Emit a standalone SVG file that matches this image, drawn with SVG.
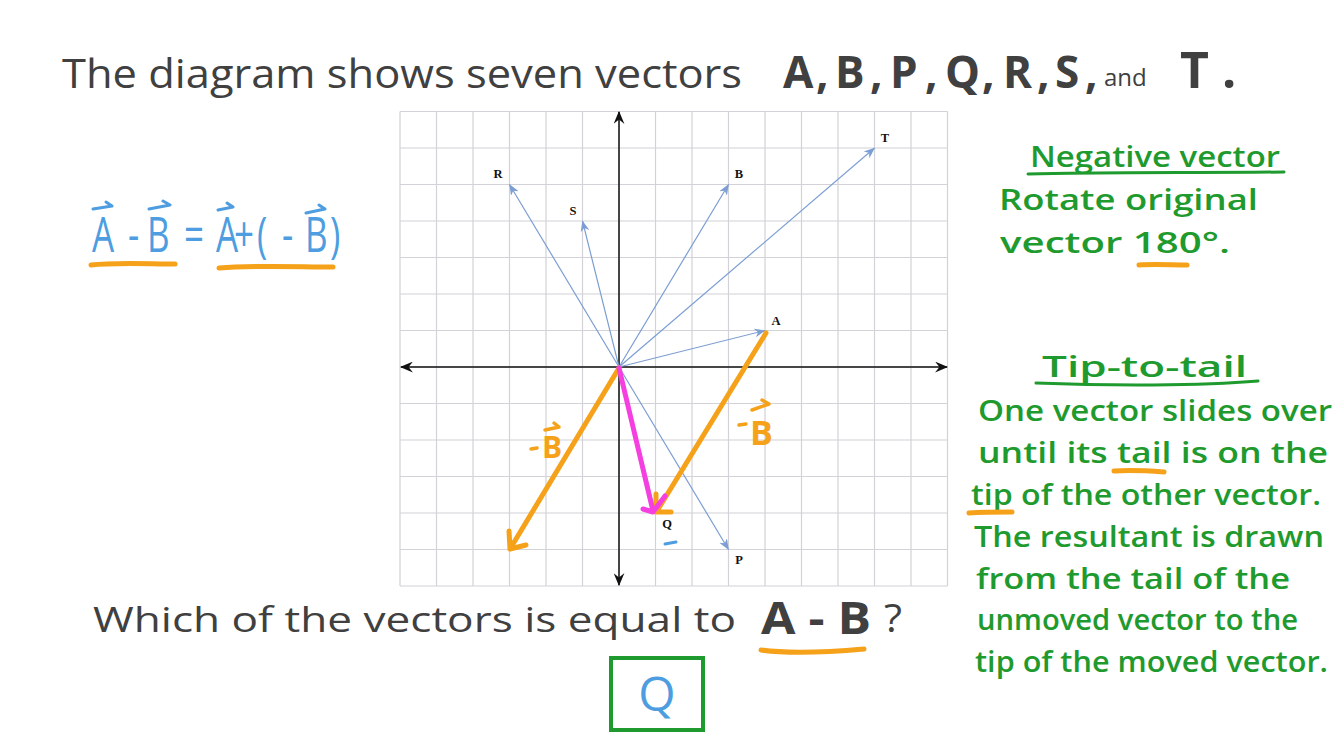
<svg xmlns="http://www.w3.org/2000/svg" width="1344" height="756" viewBox="0 0 1344 756">
<style>
.grid{stroke:#d2d2d8;stroke-width:1.2;fill:none}
.axis{stroke:#111;stroke-width:1.5;fill:none}
.vec{stroke:#7c9ed3;stroke-width:1.2;fill:none}
.lbl{font-family:"Liberation Serif",serif;font-weight:bold;font-size:12.5px;fill:#111;text-anchor:middle}
.hand{font-family:"Open Sans","Liberation Sans",sans-serif;fill:#404040}
.grn{font-family:"Open Sans","Liberation Sans",sans-serif;fill:#1f9a2e;font-weight:600;font-size:29px}
.org{stroke:#f5a21a;stroke-width:5;fill:none;stroke-linecap:round;stroke-linejoin:round}
.orgT{stroke:#f5a21a;stroke-width:3.5;fill:none;stroke-linecap:round;stroke-linejoin:round}
.pink{stroke:#f53fe0;stroke-width:5;fill:none;stroke-linecap:round;stroke-linejoin:round}
.blu{stroke:#4d9de0;stroke-width:3;fill:none;stroke-linecap:round;stroke-linejoin:round}
.gln{stroke:#1f9a2e;stroke-width:3;fill:none;stroke-linecap:round}
</style>
<defs>
<marker id="vh" viewBox="0 0 10 10" refX="9.5" refY="5" markerWidth="11" markerHeight="11" markerUnits="userSpaceOnUse" orient="auto">
<path d="M0,1 L10,5 L0,9 L3,5 z" fill="#7c9ed3"/>
</marker>
<marker id="ah" viewBox="0 0 12 10" refX="11" refY="5" markerWidth="13" markerHeight="11" markerUnits="userSpaceOnUse" orient="auto">
<path d="M0,0 L12,5 L0,10 L4,5 z" fill="#111"/>
</marker>
</defs>
<rect width="1344" height="756" fill="#fff"/>

<g id="title">
<text class="hand" x="62" y="88" font-size="40" textLength="680" lengthAdjust="spacingAndGlyphs">The diagram shows seven vectors</text>
<text class="hand" x="783 816 835 870 890 925 945 982 1003 1037 1055 1085" y="88" font-size="44" font-weight="bold">A,B,P,Q,R,S,</text>
<text class="hand" x="1104" y="86" font-size="24">and</text>
<text class="hand" x="1180 1222" y="88" font-size="50" font-weight="bold">T.</text>
</g>

<g id="grid">
<path class="grid" d="M400,111.5V586 M436.5,111.5V586 M473,111.5V586 M509.5,111.5V586 M546,111.5V586 M582.5,111.5V586 M619,111.5V586 M655.5,111.5V586 M692,111.5V586 M728.5,111.5V586 M765,111.5V586 M801.5,111.5V586 M838,111.5V586 M874.5,111.5V586 M911,111.5V586 M947.5,111.5V586 M400,111.5H947.5 M400,148H947.5 M400,184.5H947.5 M400,221H947.5 M400,257.5H947.5 M400,294H947.5 M400,330.5H947.5 M400,367H947.5 M400,403.5H947.5 M400,440H947.5 M400,476.5H947.5 M400,513H947.5 M400,549.5H947.5 M400,586H947.5"/>
</g>

<g id="axes">
<line class="axis" x1="619" y1="367" x2="947" y2="367" marker-end="url(#ah)"/>
<line class="axis" x1="619" y1="367" x2="401" y2="367" marker-end="url(#ah)"/>
<line class="axis" x1="619" y1="367" x2="619" y2="112" marker-end="url(#ah)"/>
<line class="axis" x1="619" y1="367" x2="619" y2="585" marker-end="url(#ah)"/>
</g>

<g id="connectors">
<g id="vecA"><line class="vec" x1="619" y1="367" x2="765" y2="330.5" marker-end="url(#vh)"/><text class="lbl" x="776" y="325">A</text></g>
<g id="vecB"><line class="vec" x1="619" y1="367" x2="728.5" y2="184.5" marker-end="url(#vh)"/><text class="lbl" x="739" y="178">B</text></g>
<g id="vecT"><line class="vec" x1="619" y1="367" x2="874.5" y2="148" marker-end="url(#vh)"/><text class="lbl" x="885" y="142">T</text></g>
<g id="vecR"><line class="vec" x1="619" y1="367" x2="509.5" y2="184.5" marker-end="url(#vh)"/><text class="lbl" x="498" y="178">R</text></g>
<g id="vecS"><line class="vec" x1="619" y1="367" x2="582.5" y2="221" marker-end="url(#vh)"/><text class="lbl" x="573" y="215">S</text></g>
<g id="vecP"><line class="vec" x1="619" y1="367" x2="728.5" y2="549.5" marker-end="url(#vh)"/><text class="lbl" x="739" y="564">P</text></g>
<g id="vecQ"><line class="vec" x1="619" y1="367" x2="655.5" y2="513" marker-end="url(#vh)"/><text class="lbl" x="667" y="528">Q</text></g>

<g id="negB1">
<path class="org" d="M619,368 L510,549 M509,531 L510,549 L526,545"/>
<path class="orgT" d="M531,449 L537,448"/>
<text x="542" y="458" font-family="Open Sans,Liberation Sans,sans-serif" font-weight="bold" font-size="30" fill="#f5a21a">B</text>
<path class="orgT" d="M545,430 L559,427 M554,423 L559,427"/>
</g>
<g id="negB2">
<path class="org" d="M766,333 L657,511 M656,494 L656,512 L671,512"/>
<path class="orgT" d="M739,425 L746,424"/>
<text x="750" y="445" font-family="Open Sans,Liberation Sans,sans-serif" font-weight="bold" font-size="34" fill="#f5a21a">B</text>
<path class="orgT" d="M752,410 L769,404 M762,400 L769,404"/>
</g>
<g id="resultant">
<path class="pink" d="M619,368 L653,511 M643,509 L653,512 L665,496"/>
</g>
<path class="blu" d="M665,544 L676,542"/>
</g>

<g id="equation">
<text transform="scale(0.7,1)" x="131.4 182.9 210 262.9 308.6 334.3 367 402.9 435.7 471.4" y="252" font-family="Open Sans,Liberation Sans,sans-serif" font-size="50" fill="#4d9de0">A-B=A+(-B)</text>
<path class="blu" d="M93,209 L112,206 M106,202 L112,206 M149,209 L170,205 M163,201 L170,205 M218,210 L233,207 M227,203 L233,207 M306,213 L325,209 M319,205 L325,209"/>
<path class="org" d="M91,265 C115,262 150,264 175,264 M219,268 C255,265 300,267 333,267"/>
</g>

<g id="note-negative">
<text class="grn" x="1030" y="167" textLength="250" lengthAdjust="spacingAndGlyphs">Negative vector</text>
<path class="gln" d="M1028,174 C1100,172 1200,173 1284,172"/>
<text class="grn" x="999" y="210" textLength="259" lengthAdjust="spacingAndGlyphs">Rotate original</text>
<text class="grn" x="1000" y="253" textLength="230" lengthAdjust="spacingAndGlyphs">vector 180°.</text>
<path class="org" d="M1139,265 C1155,264 1172,265 1187,265"/>
</g>

<g id="note-tiptotail">
<text class="grn" x="1042" y="377" textLength="205" lengthAdjust="spacingAndGlyphs">Tip-to-tail</text>
<path class="gln" d="M1036,383 C1110,386 1200,386 1258,381"/>
<text class="grn" x="978" y="421" textLength="354" lengthAdjust="spacingAndGlyphs">One vector slides over</text>
<text class="grn" x="978" y="463" textLength="350" lengthAdjust="spacingAndGlyphs">until its tail is on the</text>
<path class="org" d="M1114,471 C1130,470 1150,471 1164,472"/>
<text class="grn" x="971" y="505" textLength="350" lengthAdjust="spacingAndGlyphs">tip of the other vector.</text>
<path class="org" d="M969,513 C983,512 998,512 1012,512"/>
<text class="grn" x="974" y="547" textLength="350" lengthAdjust="spacingAndGlyphs">The resultant is drawn</text>
<text class="grn" x="976" y="589" textLength="314" lengthAdjust="spacingAndGlyphs">from the tail of the</text>
<text class="grn" x="977" y="630" textLength="321" lengthAdjust="spacingAndGlyphs">unmoved vector to the</text>
<text class="grn" x="975" y="672" textLength="353" lengthAdjust="spacingAndGlyphs">tip of the moved vector.</text>
</g>

<g id="question">
<text class="hand" x="93" y="632" font-size="34" textLength="643" lengthAdjust="spacingAndGlyphs">Which of the vectors is equal to</text>
<text class="hand" x="761" y="634" font-size="44" font-weight="bold" textLength="110" lengthAdjust="spacingAndGlyphs">A - B</text>
<text class="hand" x="884" y="632" font-size="38" textLength="18" lengthAdjust="spacingAndGlyphs">?</text>
<path class="org" d="M761,650 C790,654 830,652 864,649"/>
</g>

<g id="answer">
<rect x="611" y="658" width="92" height="72" fill="none" stroke="#1f9a2e" stroke-width="4"/>
<text x="657" y="711" font-family="Open Sans,Liberation Sans,sans-serif" font-size="48" fill="#4d9de0" text-anchor="middle">Q</text>
</g>
</svg>
